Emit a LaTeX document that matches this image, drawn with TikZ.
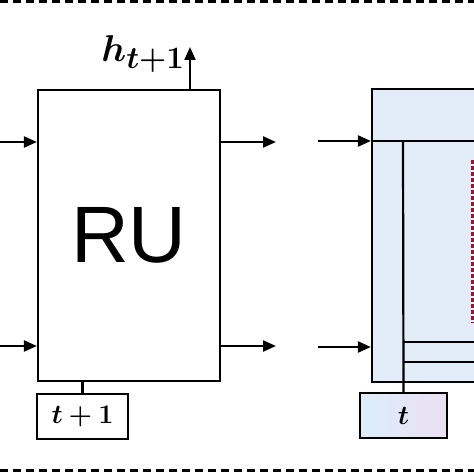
\documentclass[tikz,border=0pt]{standalone}
\usepackage{bm}
\usepackage{fontspec}
\newfontfamily\rufont{Liberation Sans}
\usetikzlibrary{arrows.meta,positioning}
\definecolor{blockblue}{HTML}{E2EDF9}
\definecolor{tleft}{HTML}{DCEEF9}
\definecolor{tright}{HTML}{EBDFF4}
\definecolor{gatered}{HTML}{A8102C}
\tikzset{
  box/.style={draw,line width=2.2pt,inner sep=0pt},
  arr/.style={line width=2.2pt,-{Triangle[length=13pt,width=11pt]}},
  wire/.style={line width=2.2pt},
  sep/.style={line width=3pt,dash pattern=on 8pt off 5pt}
}
\begin{document}
\begin{tikzpicture}[x=1pt,y=1pt]
  \useasboundingbox (0,0) rectangle (474,474);
  \clip (0,0) rectangle (474,474);
  \coordinate (s1) at (0,472);
  \coordinate (s2) at (474,472);
  \coordinate (s3) at (0,3);
  \coordinate (s4) at (474,3);
  \draw[sep] (s1) -- (s2);
  \draw[sep] (s3) -- (s4);
  \node[box,minimum width=182pt,minimum height=291pt] (ru) at (129,238.5)
    {\rufont\fontsize{80}{80}\selectfont RU};
  \node[box,minimum width=91pt,minimum height=45pt] (tnext) at (82.5,57.5)
    {\scalebox{1.3}{\huge$\bm{t+1}$}};
  \coordinate (hout) at (190,427);
  \node[scale=1.5] (ht) at (143,420) {\Huge$\bm{h_{t+1}}$};
  \node[box,fill=blockblue,minimum width=110pt,minimum height=293pt] (rb) at (427,238.5) {};
  \node[box,left color=tleft,right color=tright,minimum width=87pt,minimum height=45pt]
    (tcur) at (403.5,58.5) {\scalebox{1.3}{\huge$\bm{t}$}};
  \coordinate (in1) at (0,332);
  \coordinate (in2) at (0,128);
  \coordinate (out1) at (276,332);
  \coordinate (out2) at (276,128);
  \coordinate (rin1) at (318,333);
  \coordinate (rin2) at (318,127);
  \coordinate (top) at (403,333);
  \coordinate (e1) at (474,333);
  \coordinate (m1) at (403,132);
  \coordinate (m2) at (403,112);
  \coordinate (e2) at (474,132);
  \coordinate (e3) at (474,112);
  \coordinate (g1) at (472.5,314);
  \coordinate (g2) at (472.5,151);
  \draw[arr] (in1) -- (in1 -| ru.west);
  \draw[arr] (in2) -- (in2 -| ru.west);
  \draw[arr] (out1 -| ru.east) -- (out1);
  \draw[arr] (out2 -| ru.east) -- (out2);
  \draw[arr] (hout |- ru.north) -- (hout);
  \draw[wire] (tnext.north) -- (tnext.north |- ru.south);
  \draw[arr] (rin1) -- (rin1 -| rb.west);
  \draw[arr] (rin2) -- (rin2 -| rb.west);
  \draw[wire] (top -| rb.west) -- (e1);
  \draw[wire] (top) -- (tcur.north);
  \draw[wire] (m1) -- (e2);
  \draw[wire] (m2) -- (e3);
  \draw[gatered,line width=4pt,dash pattern=on 4pt off 2pt] (g1) -- (g2);
\end{tikzpicture}
\end{document}
